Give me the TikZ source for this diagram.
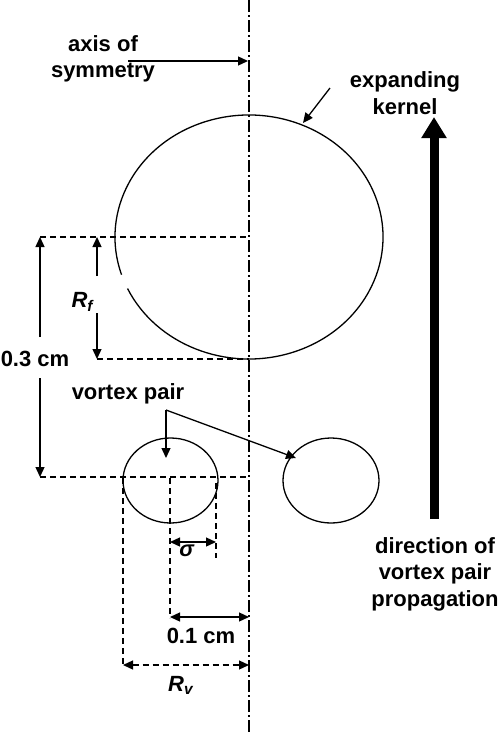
\documentclass[tikz,border=0pt]{standalone}
\usepackage{fontspec}
\setmainfont{Liberation Sans}
\usetikzlibrary{arrows.meta,shapes.geometric}
\begin{document}
\begin{tikzpicture}[x=1pt,y=-1pt,
  lbl/.style={font=\fontsize{22}{26.5}\selectfont\bfseries,align=center,inner sep=0pt},
  thin/.style={line width=1.3pt},
  dsh/.style={thin,dash pattern=on 6pt off 4pt},
  tip/.style={-{Triangle[length=10pt,width=9pt]}},
  dtip/.style={{Triangle[length=10pt,width=9pt]}-{Triangle[length=10pt,width=9pt]}}]
\useasboundingbox (0,0) rectangle (500,734);
% axis
\coordinate (axT) at (249,0);
\coordinate (axB) at (249,734);
\draw[line width=1.1pt,dash pattern=on 12pt off 3pt on 2pt off 3pt] (axT) -- (axB);
% big circle with gap
\coordinate (big) at (249,237);
\draw[thin] ([shift={(162:134 and 122)}]big) arc[start angle=162,end angle=515,x radius=134,y radius=122];
% small circles
\node[draw,thin,ellipse,minimum width=95pt,minimum height=85pt,inner sep=0pt] (vl) at (170.5,480.5) {};
\node[draw,thin,ellipse,minimum width=96pt,minimum height=85pt,inner sep=0pt] (vr) at (331,480.5) {};
% texts
\node[lbl] (axis) at (103,59) {axis of\\symmetry};
\node[lbl] (kern) at (405,93) {expanding\\kernel};
\node[lbl] (d03) at (35,359) {0.3 cm};
\node[lbl] (rf) at (83,302) {\textit{R}\textsubscript{\textit{f}}};
\node[lbl] (vp) at (128,394) {vortex pair};
\node[lbl] (sig) at (187,551) {\textit{σ}};
\node[lbl] (d01) at (201,636) {0.1 cm};
\node[lbl] (rv) at (181,685) {\textit{R}\textsubscript{\textit{v}}};
\node[lbl] (dir) at (435,574) {direction of\\vortex pair\\propagation};
% axis of symmetry arrow
\coordinate (a1) at (128,61);
\coordinate (a2) at (248,61);
\draw[thin,tip] (a1) -- (a2);
% expanding kernel arrow
\coordinate (k1) at (330,88);
\coordinate (k2) at (303,123);
\draw[thin,tip] (k1) -- (k2);
% dashed horizontals
\coordinate (h1a) at (40,237); \coordinate (h1b) at (249,237);
\coordinate (h2a) at (97,359); \coordinate (h2b) at (249,359);
\coordinate (h3a) at (40,477); \coordinate (h3b) at (249,477);
\draw[dsh] (h1a) -- (h1b);
\draw[dsh] (h2a) -- (h2b);
\draw[dsh] (h3a) -- (h3b);
% 0.3 cm arrow
\coordinate (t1) at (40,237); \coordinate (t1e) at (40,337);
\coordinate (t2) at (40,477); \coordinate (t2e) at (40,378);
\draw[thin,tip] (t1e) -- (t1);
\draw[thin,tip] (t2e) -- (t2);
% Rf arrow
\coordinate (r1) at (97,237); \coordinate (r1e) at (97,276);
\coordinate (r2) at (97,359); \coordinate (r2e) at (97,313);
\draw[thin,tip] (r1e) -- (r1);
\draw[thin,tip] (r2e) -- (r2);
% vortex pair arrows
\coordinate (vpo) at (166,410);
\coordinate (vpl) at (166,458);
\coordinate (vpr) at (296,458);
\draw[thin,tip] (vpo) -- (vpl);
\draw[thin,tip] (vpo) -- (vpr);
% vertical dashed lines
\coordinate (v1a) at (123,478); \coordinate (v1b) at (123,665);
\coordinate (v2a) at (170,478); \coordinate (v2b) at (170,618);
\coordinate (v3a) at (216,483); \coordinate (v3b) at (216,558);
\draw[dsh] (v1a) -- (v1b);
\draw[dsh] (v2a) -- (v2b);
\draw[dsh] (v3a) -- (v3b);
% sigma arrow
\coordinate (s1) at (170,542); \coordinate (s2) at (216,542);
\draw[thin,dtip] (s1) -- (s2);
% 0.1 cm arrow
\coordinate (c1) at (170,617); \coordinate (c2) at (249,617);
\draw[thin,dtip] (c1) -- (c2);
% Rv arrow
\coordinate (q1) at (123,665); \coordinate (q2) at (249,665);
\draw[dsh,dtip] (q1) -- (q2);
% propagation arrow
\coordinate (p1) at (434,519); \coordinate (p2) at (434,117);
\draw[line width=9pt,-{Triangle[length=21pt,width=24pt]}] (p1) -- (p2);
\end{tikzpicture}
\end{document}
